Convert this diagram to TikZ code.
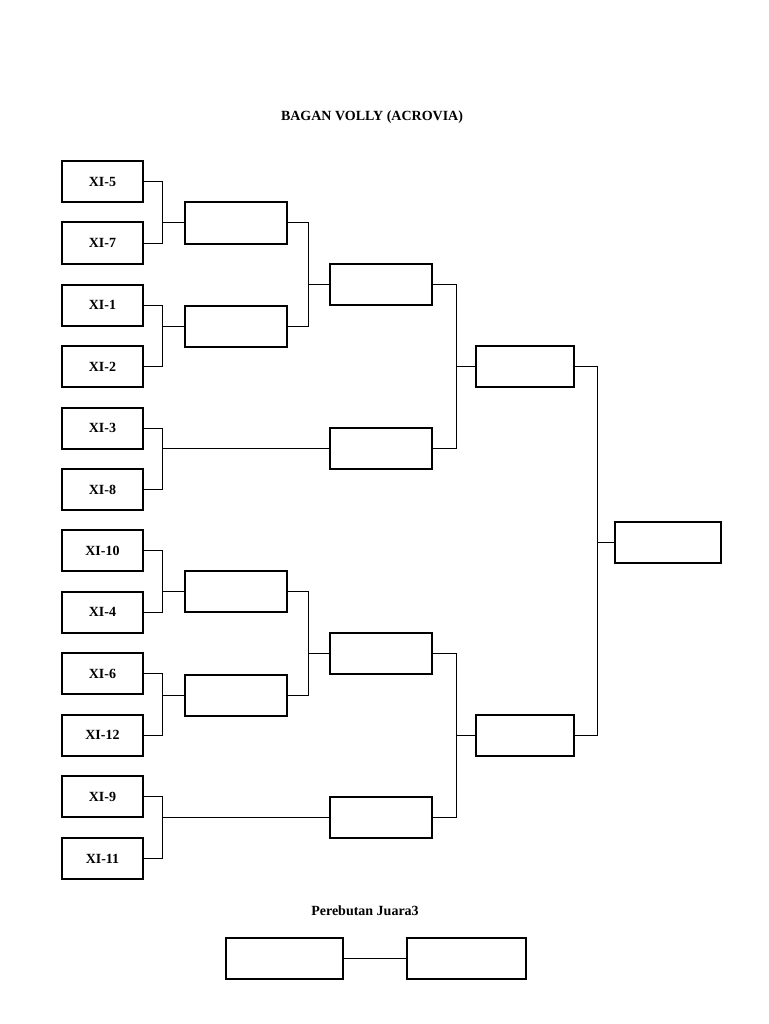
\documentclass[tikz,border=0pt]{standalone}
\usepackage{fontspec}
\setmainfont{Liberation Serif}
\usetikzlibrary{calc}

\begin{document}
\begin{tikzpicture}[x=1pt, y=-1pt, every path/.style={line width=1pt},
  lbl/.style={font=\fontsize{14}{16}\selectfont\bfseries},
  team/.style={draw, line width=2pt, minimum width=81pt, minimum height=41pt, inner sep=0pt, lbl},
  slot/.style={draw, line width=2pt, minimum height=41pt, inner sep=0pt}]
\useasboundingbox (0,0) rectangle (768,1024);
\node[lbl] (title) at (372,117) {BAGAN VOLLY (ACROVIA)};
% first round
\node[team] (t5) at (102.5,181.5) {XI-5};
\node[team] (t7) at (102.5,243) {XI-7};
\node[team] (t1) at (102.5,305) {XI-1};
\node[team] (t2) at (102.5,366.5) {XI-2};
\node[team] (t3) at (102.5,428) {XI-3};
\node[team] (t8) at (102.5,489.5) {XI-8};
\node[team] (t10) at (102.5,550.5) {XI-10};
\node[team] (t4) at (102.5,612) {XI-4};
\node[team] (t6) at (102.5,673.5) {XI-6};
\node[team] (t12) at (102.5,735) {XI-12};
\node[team] (t9) at (102.5,796.5) {XI-9};
\node[team] (t11) at (102.5,858.5) {XI-11};
% later rounds
\node[slot, minimum width=102pt] (r1) at (236,223) {};
\node[slot, minimum width=102pt] (r2) at (236,326) {};
\node[slot, minimum width=102pt] (r3) at (236,591.5) {};
\node[slot, minimum width=102pt] (r4) at (236,695) {};
\node[slot, minimum width=102pt] (q1) at (381,284.5) {};
\node[slot, minimum width=102pt] (q2) at (381,448.5) {};
\node[slot, minimum width=102pt] (q3) at (381,653) {};
\node[slot, minimum width=102pt] (q4) at (381,817) {};
\node[slot, minimum width=98pt] (s1) at (525,366.5) {};
\node[slot, minimum width=98pt] (s2) at (525,735.5) {};
\node[slot, minimum width=106pt] (fin) at (668,542.5) {};

\foreach \a/\b/\w/\x in {t5/t7/r1/162, t1/t2/r2/162, t3/t8/q2/162, t10/t4/r3/162,
    t6/t12/r4/162, t9/t11/q4/162, r1/r2/q1/308, r3/r4/q3/308, q1/q2/s1/456,
    q3/q4/s2/456, s1/s2/fin/597}{
  \draw (\a.east) -- (\a.east -| \x,0) -- (\b.east -| \x,0) -- (\b.east);
  \draw (\w.west -| \x,0) -- (\w.west);
}

% third place
\node[lbl] (third) at (365,911) {Perebutan Juara3};
\node[slot, minimum width=117pt] (p1) at (284.5,958.5) {};
\node[slot, minimum width=119pt] (p2) at (466.5,958.5) {};
\draw (p1) -- (p2);
\end{tikzpicture}
\end{document}
